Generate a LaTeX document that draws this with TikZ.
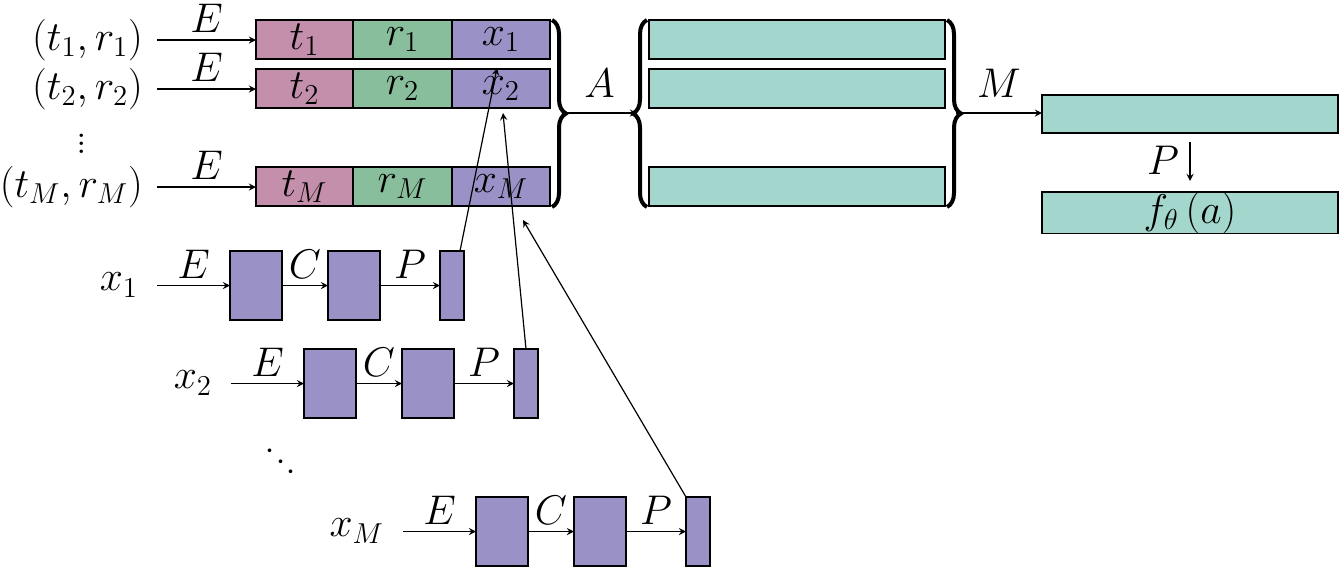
\documentclass[tikz,border=0pt]{standalone}
\usetikzlibrary{decorations.pathreplacing}
\definecolor{cT}{HTML}{C48FAB}
\definecolor{cR}{HTML}{88BE9C}
\definecolor{cX}{HTML}{9A92C6}
\definecolor{cQ}{HTML}{A3D7CD}
\begin{document}
\begin{tikzpicture}[x=0.5pt,y=-0.5pt,font=\fontsize{21}{25}\selectfont,
 bx/.style={draw,line width=0.6pt,inner sep=0pt,outer sep=0pt,anchor=north west},
 ar/.style={->,>=stealth,line width=0.6pt},
 br/.style={decorate,decoration={brace,amplitude=7pt},line width=2pt}]
\useasboundingbox (0,0) rectangle (1340,570);
\foreach \n/\y/\s in {1/20/1,2/69/2,M/167/M}{
 \node[bx,fill=cT,minimum width=48.5pt,minimum height=19.5pt] (t\n) at (256,\y) {$t_{\s}$};
 \node[bx,fill=cR,minimum width=49.5pt,minimum height=19.5pt] (r\n) at (353,\y) {$r_{\s}$};
 \node[bx,fill=cX,minimum width=49pt,minimum height=19.5pt] (x\n) at (452,\y) {$x_{\s}$};
 \node[bx,fill=cQ,minimum width=148pt,minimum height=19.5pt] (q\n) at (649,\y) {};
 \node[anchor=east] (l\n) at (150,\y+20) {$(t_{\s},r_{\s})$};
 \draw[ar] (157,\y+20) coordinate (s\n) -- node[above]{$E$} (s\n -| t\n.west);
}
\node (vd) at (82,138) {$\vdots$};
\draw[br] (552,20) -- (552,207);
\draw[br] (647,207) -- (647,20);
\draw[br] (947,20) -- (947,207);
\coordinate (b1) at (562,113); \coordinate (b2) at (637,113); \coordinate (b3) at (956,113);
\draw[ar] (b1) -- node[above=4pt]{$A$} (b2);
\node[bx,fill=cQ,minimum width=148pt,minimum height=19pt] (m) at (1042,95) {};
\draw[ar] (b3) -- node[above=4pt]{$M$} (b3 -| m.west);
\node[bx,fill=cQ,minimum width=148pt,minimum height=19.5pt] (f) at (1042,192) {$f_\theta\left(a\right)$};
\draw[ar] (1190,142) coordinate (p0) -- (1190,181) coordinate (p1);
\node (pl) at (1163,160) {$P$};
\foreach \n/\s/\dx/\dy in {1/1/0/0,2/2/74/98,M/M/246/246}{
 \node[anchor=east] (c\n) at (145+\dx,285+\dy) {$x_{\s}$};
 \node[bx,fill=cX,minimum width=26pt,minimum height=34.5pt] (a\n) at (230+\dx,251+\dy) {};
 \node[bx,fill=cX,minimum width=26pt,minimum height=34.5pt] (b\n) at (328+\dx,251+\dy) {};
 \node[bx,fill=cX,minimum width=12pt,minimum height=34.5pt] (d\n) at (440+\dx,251+\dy) {};
 \draw[ar] (157+\dx,285.5+\dy) coordinate (e\n) -- node[above]{$E$} (e\n -| a\n.west);
 \draw[ar] (a\n.east) -- node[above]{$C$} (b\n.west);
 \draw[ar] (b\n.east) -- node[above]{$P$} (d\n.west);
}
\node[rotate=-45,font=\fontsize{18}{20}\selectfont] (dd) at (280,462) {$\cdots$};
\coordinate (u1) at (497,68); \coordinate (u2) at (503,113); \coordinate (u3) at (523,220);
\draw[ar] ([xshift=10pt]d1.north west) -- (u1);
\draw[ar] ([xshift=6pt]d2.north west) -- (u2);
\draw[ar] (dM.north west) -- (u3);
\end{tikzpicture}
\end{document}
